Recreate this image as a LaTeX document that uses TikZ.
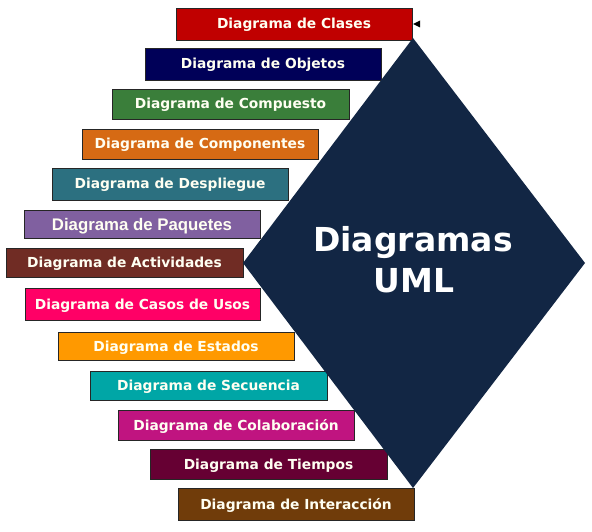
\documentclass[tikz,border=0pt]{standalone}
\usepackage{fontspec}
\setmainfont{DejaVu Sans}
\newfontfamily\arialbf{Liberation Sans}
\definecolor{cClases}{RGB}{192,0,0}
\definecolor{cObjetos}{RGB}{0,0,88}
\definecolor{cCompuesto}{RGB}{58,126,58}
\definecolor{cComponentes}{RGB}{214,106,20}
\definecolor{cDespliegue}{RGB}{44,112,128}
\definecolor{cPaquetes}{RGB}{128,96,160}
\definecolor{cActividades}{RGB}{112,44,36}
\definecolor{cCasos}{RGB}{255,0,102}
\definecolor{cEstados}{RGB}{255,153,0}
\definecolor{cSecuencia}{RGB}{0,166,166}
\definecolor{cColab}{RGB}{192,20,128}
\definecolor{cTiempos}{RGB}{102,0,51}
\definecolor{cInter}{RGB}{112,60,10}
\definecolor{cDiam}{RGB}{18,38,68}
\definecolor{cText}{RGB}{255,255,242}
\begin{document}
\begin{tikzpicture}[x=1pt,y=-1pt,
  lbl/.style={draw=black!85, line width=0.8pt, text=cText,
    font=\fontsize{13.8}{16}\selectfont\bfseries,
    minimum width=236pt, inner sep=0pt, text height=10pt, text depth=0pt},
  bigtxt/.style={text=white, font=\fontsize{33}{41}\selectfont\bfseries, inner sep=0pt, anchor=base}]
\useasboundingbox (0,0) rectangle (592,532);
\fill[white] (0,0) rectangle (592,532);

\node[lbl, fill=cClases, minimum height=32pt] (b1) at (294,24) {Diagrama de Clases};
\node[lbl, fill=cObjetos, minimum height=32pt] (b2) at (263,64) {Diagrama de Objetos};
\node[lbl, fill=cCompuesto, minimum height=30pt, minimum width=237pt] (b3) at (230.5,104) {Diagrama de Compuesto};
\node[lbl, fill=cComponentes, minimum height=30pt] (b4) at (200,144) {Diagrama de Componentes};
\node[lbl, fill=cDespliegue, minimum height=32pt] (b5) at (170,184) {Diagrama de Despliegue};
\node[lbl, fill=cPaquetes, minimum height=28pt, font=\fontsize{16.8}{19}\arialbf\bfseries, text height=12pt] (b6) at (142,224) {Diagrama de Paquetes};
\node[lbl, fill=cActividades, minimum height=29pt, minimum width=237pt] (b7) at (124.5,262.5) {Diagrama de Actividades};
\node[lbl, fill=cCasos, minimum height=32pt, minimum width=235pt] (b8) at (142.5,304) {Diagrama de Casos de Usos};
\node[lbl, fill=cEstados, minimum height=28pt] (b9) at (176,346) {Diagrama de Estados};
\node[lbl, fill=cSecuencia, minimum height=29pt, minimum width=237pt] (b10) at (208.5,385.5) {Diagrama de Secuencia};
\node[lbl, fill=cColab, minimum height=30pt] (b11) at (236,425) {Diagrama de Colaboración};
\node[lbl, fill=cTiempos, minimum height=30pt, minimum width=237pt] (b12) at (268.5,464) {Diagrama de Tiempos};
\node[lbl, fill=cInter, minimum height=32pt] (b13) at (296,504) {Diagrama de Interacción};

\coordinate (dT) at (413,38);
\coordinate (dR) at (585,263);
\coordinate (dB) at (413,488);
\coordinate (dL) at (243,263);
\fill[cDiam] (dT) -- (dR) -- (dB) -- (dL) -- cycle;
\node[bigtxt] (t1) at (413,251) {Diagramas};
\node[bigtxt] (t2) at (414,292) {UML};

\fill[black] (413,24) -- (420,20.5) -- (420,27.5) -- cycle;
\end{tikzpicture}
\end{document}
